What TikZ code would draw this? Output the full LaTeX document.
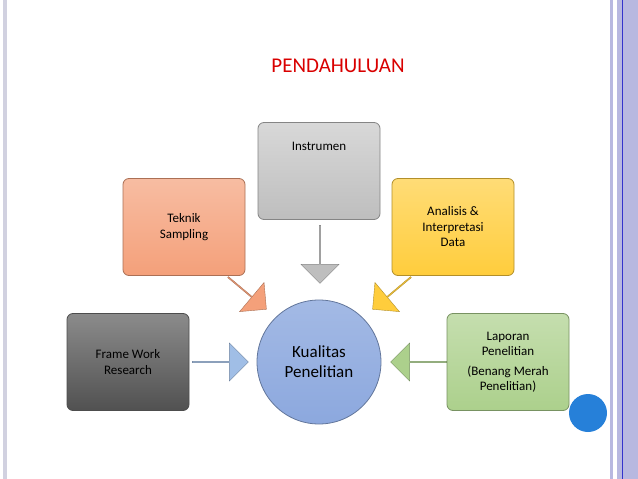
\documentclass[tikz,border=0pt]{standalone}
\usepackage{fontspec}
\setmainfont{Carlito}
\usetikzlibrary{shapes.arrows}
\begin{document}
\begin{tikzpicture}[x=1pt,y=-1pt,
 bx/.style={draw=#1!70!black,rounded corners=6pt,minimum width=122pt,minimum height=97pt,align=center,font=\fontsize{13}{15.5}\selectfont,line width=0.8pt},
 ar/.style={single arrow,draw=#1!70!black,fill=#1,minimum height=58pt,minimum width=38pt,single arrow head extend=6pt,single arrow tip angle=90,inner sep=0pt}]
\useasboundingbox (0,0) rectangle (638,479);
\fill[white] (0,0) rectangle (638,479);
\fill[blue!20!gray!30] (3,0) rectangle (7,479);
\fill[blue!40!gray!40] (610,0) rectangle (613,479);
\fill[blue!40!gray!40] (617,0) rectangle (638,479);
\draw[blue!60!gray,line width=0.6pt] (622,0) -- (622,479);
\node[text=red!85!black,font=\fontsize{21}{24}\selectfont] (title) at (338,66) {PENDAHULUAN};
\definecolor{og}{RGB}{244,160,122}\definecolor{yl}{RGB}{255,205,60}
\definecolor{gr}{RGB}{172,208,140}\definecolor{gy}{RGB}{190,190,190}
\definecolor{dg}{RGB}{110,110,110}\definecolor{bl}{RGB}{140,168,222}
\definecolor{lb}{RGB}{160,190,230}
\node[ar=gy,rotate=-90] (a1) at (320,254) {};
\node[ar=og,rotate=-40,minimum height=50pt] (a2) at (247,293) {};
\node[ar=yl,rotate=-140,minimum height=50pt] (a3) at (392,293) {};
\node[ar=lb,minimum height=56pt] (a4) at (220,362) {};
\node[ar=gr,rotate=180,minimum height=56pt] (a5) at (419,362) {};
\node[bx=gy,top color=gy!60,bottom color=gy,text depth=50pt] (ins) at (319,171) {\raisebox{0pt}{Instrumen}};
\node[bx=og,top color=og!70,bottom color=og] (tek) at (184,227) {Teknik\\Sampling};
\node[bx=yl,top color=yl!70,bottom color=yl] (ana) at (453,227) {Analisis \&\\Interpretasi\\Data};
\node[bx=dg,top color=dg!80,bottom color=dg!120] (fw) at (128,362) {Frame Work\\Research};
\node[bx=gr,top color=gr!70,bottom color=gr] (lap) at (508,362) {Laporan\\Penelitian\\[4pt](Benang Merah\\Penelitian)};
\node[circle,draw=bl!70!black,line width=0.8pt,top color=bl!80,bottom color=bl,minimum size=124pt,align=center,font=\fontsize{17}{20}\selectfont] (kp) at (319,362) {Kualitas\\Penelitian};
\node[circle,fill=blue!50!cyan!70!gray,minimum size=38pt] (dot) at (588,413) {};
\end{tikzpicture}
\end{document}
